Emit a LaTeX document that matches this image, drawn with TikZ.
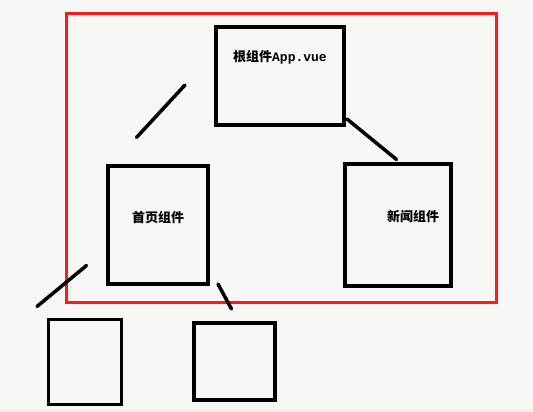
\documentclass[tikz,border=0pt]{standalone}
\usepackage{fontspec}
\usepackage{tikz}
\newfontfamily\cjk{Noto Sans CJK SC}
\newfontfamily\monofnt{Liberation Mono}
\definecolor{bggray}{HTML}{F7F7F5}
\definecolor{stripgray}{HTML}{EFEFED}
\definecolor{framered}{HTML}{FF1A1A}

\begin{document}
\begin{tikzpicture}[x = 1pt, y = -1pt,
  box/.style = {draw, line width = 3.5pt, inner sep = 0pt},
  lbl/.style = {font = \cjk\bfseries\fontsize{13}{15}\selectfont, inner sep = 0pt},
  stroke/.style = {line width = 3.5pt, line cap = round}]
%\draw[very thin, color = gray](0, 0) grid (533, 412);
\fill [bggray] (0, 0) rectangle (533, 412);
\fill [stripgray] (0, 409) rectangle (533, 412);
\useasboundingbox (0, 0) rectangle (533, 412);
\draw [framered, line width = 3pt] (66.5, 14) rectangle (496.5, 302.5);
\node [box, minimum width = 128pt, minimum height = 98pt] (root) at (280, 76) {};
\node [box, minimum width = 100pt, minimum height = 118pt] (home) at (158, 225) {};
\node [box, minimum width = 106pt, minimum height = 122pt] (news) at (398, 225) {};
\node [box, minimum width = 73pt, minimum height = 85pt] (leafa) at (85, 362) {};
\node [box, minimum width = 81pt, minimum height = 77pt] (leafb) at (234.5, 361.5) {};
\node [lbl] (roottext) at (280, 57) {根组件{\monofnt\bfseries App.vue}};
\node [lbl] (hometext) at (158, 218) {首页组件};
\node [lbl] (newstext) at (413, 217) {新闻组件};
\coordinate (ra) at (185, 85);
\coordinate (ha) at (136.5, 137.5);
\coordinate (rb) at (347, 119);
\coordinate (nb) at (396.5, 159.5);
\coordinate (hc) at (86.5, 265.5);
\coordinate (lc) at (37, 306.5);
\coordinate (hd) at (218, 284);
\coordinate (ld) at (231.5, 309);
\draw [stroke] (ra) -- (ha);
\draw [stroke] (rb) -- (nb);
\draw [stroke] (hc) -- (lc);
\draw [stroke] (hd) -- (ld);
\end{tikzpicture}
\end{document}
